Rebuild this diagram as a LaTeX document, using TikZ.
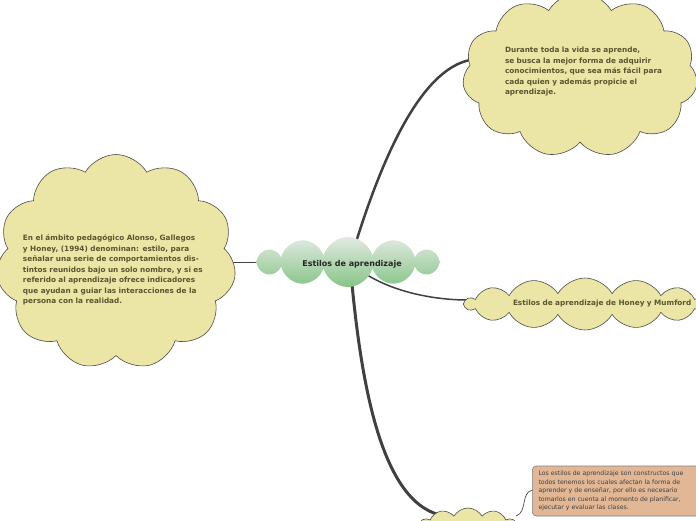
\documentclass[tikz,border=0pt]{standalone}
\usepackage{fontspec}
\setmainfont{DejaVu Sans}
\usetikzlibrary{shapes.symbols}
\definecolor{cy}{HTML}{EBE5A6}
\definecolor{tx}{HTML}{5A5530}
\definecolor{br}{HTML}{E2B795}
\tikzset{x=1pt,y=-1pt,
 cl/.style={cloud,cloud puffs=11,cloud puff arc=120,aspect=1.4,draw=black!70,fill=cy,line width=0.6pt,inner sep=0pt},
 tt/.style={font=\fontsize{7.3}{10.5}\selectfont\bfseries,text=tx,align=left},
 br1/.style={draw=black!75,line width=3pt,line cap=round},
 br2/.style={draw=black!75,line width=1pt}}
\begin{document}
\begin{tikzpicture}
\useasboundingbox (0,0) rectangle (696,520);
\clip (0,0) rectangle (696,520);
% connectors
\coordinate (c0) at (350,262);
\coordinate (e1) at (470,60);
\coordinate (e3) at (468,300);
\coordinate (e4) at (440,515);
\draw[br1,line width=2.5pt] (c0) .. controls (380,160) and (420,70) .. (e1);
\draw[br2,line width=1.5pt] (c0) .. controls (380,290) and (430,300) .. (e3);
\draw[br1] (c0) .. controls (360,380) and (380,500) .. (e4);
\draw[br2,line width=0.7pt] (258,262) -- (232,262);
\draw[black!70,line width=0.7pt] (516,516) .. controls (528,512) and (520,492) .. (533,490);
% clouds
\node[cl,minimum width=235,minimum height=165] (a) at (580,75) {};
\node[tt,text width=160] at (585,72) {Durante toda la vida se aprende, se busca la mejor forma de adquirir conocimientos, que sea más fácil para cada quien y además propicie el\\aprendizaje.};
\node[cl,minimum width=240,minimum height=215,aspect=1.1] (b) at (116,262) {};
\node[tt,text width=180] at (113,270) {En el ámbito pedagógico Alonso, Gallegos y Honey, (1994) denominan: estilo, para señalar una serie de comportamientos distintos reunidos bajo un solo nombre, y si es referido al aprendizaje ofrece indicadores que ayudan a guiar las interacciones de la persona con la realidad.};
\node[cl,minimum width=240,minimum height=52,aspect=4,cloud puffs=14] (c) at (585,304) {};
\node[tt,text width=180] at (603,304) {Estilos de aprendizaje de Honey y Mumford};
\node[cl,minimum width=100,minimum height=40,aspect=2.5] (d) at (468,528) {};
\node[draw=black!50,fill=br,rounded corners=4pt,minimum width=180,minimum height=50,anchor=west,line width=0.6pt] (e) at (532,491) {};
\node[font=\fontsize{6.2}{8.6}\selectfont,text=black!75,align=left,anchor=west] at (535,491) {Los estilos de aprendizaje son constructos que\\todos tenemos los cuales afectan la forma de\\aprender y de enseñar, por ello es necesario\\tomarlos en cuenta al momento de planificar,\\ejecutar y evaluar las clases.};
\node[cloud,cloud puffs=12,aspect=4,minimum width=185,minimum height=50,draw=none,inner sep=0pt,top color=green!15!gray!20,bottom color=green!35!gray!70] (m) at (348,262) {};
\node[font=\fontsize{8}{10}\selectfont\bfseries,text=black!85] at (352,264) {Estilos de aprendizaje};
\end{tikzpicture}
\end{document}
